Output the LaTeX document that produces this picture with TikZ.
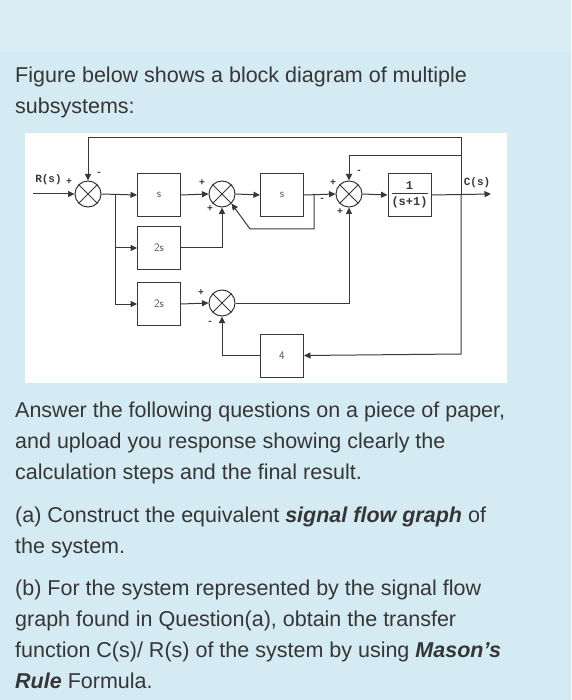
\documentclass[tikz,border=0pt]{standalone}
\usepackage{fontspec}
\setmainfont{Liberation Sans}
\setmonofont{Liberation Mono}
\usetikzlibrary{arrows.meta}

\definecolor{pagebg}{HTML}{D4EBF4}
\definecolor{topbg}{HTML}{DAEDF4}
\definecolor{ink}{HTML}{363636}
\definecolor{wire}{HTML}{383838}
\definecolor{blocktext}{HTML}{555555}

\begin{document}
\begin{tikzpicture}[x=1pt, y=-1pt,
    every node/.style={inner sep=0pt},
    line/.style={draw=wire, line width=1pt},
    arr/.style={line, -{Triangle[length=6.5pt, width=6pt]}},
    block/.style={draw=wire, line width=1pt, minimum width=43pt, minimum height=43pt,
      font=\sffamily\fontsize{11.5}{12}\selectfont, text=blocktext},
    summer/.style={circle, draw=wire, line width=1pt, minimum size=26pt,
      path picture={\draw[wire, line width=0.9pt]
        (path picture bounding box.north west) -- (path picture bounding box.south east)
        (path picture bounding box.north east) -- (path picture bounding box.south west);}},
    sign/.style={font=\bfseries\fontsize{10}{10}\selectfont, text=wire},
    sig/.style={font=\ttfamily\bfseries\fontsize{11}{12}\selectfont, text=wire},
    para/.style={anchor=base west, text=ink, font=\fontsize{21.5}{26}\selectfont}]

  \useasboundingbox (0,0) rectangle (571,700);

  %% Page background
  \fill[pagebg] (0,0) rectangle (571,700);
  \fill[topbg] (0,0) rectangle (571,52);
  \fill[white] (25,133) rectangle (507,383);

  %% Question text
  \node[para] (t1) at (15,83) {Figure below shows a block diagram of multiple};
  \node[para] (t2) at (15,113.5) {subsystems:};

  %% Block diagram
  % summing junctions
  \node[summer] (sum1) at (88,194) {};
  \node[summer] (sum2) at (222,194) {};
  \node[summer] (sum3) at (349,194) {};
  \node[summer] (sum4) at (222,303) {};

  % blocks
  \node[block] (bs1) at (159,195) {s};
  \node[block] (b2a) at (159,248) {2s};
  \node[block] (b2b) at (159,304) {2s};
  \node[block] (bs2) at (282,195) {s};
  \node[block, text=wire] (bg) at (409.5,195) {\ttfamily\bfseries\fontsize{12}{13}\selectfont
    \begin{tabular}{@{}c@{}}1\\[-1pt]\hline\rule{0pt}{12pt}(s+1)\end{tabular}};
  \node[block] (b4) at (282,355.5) {4};

  % signal labels
  \node[sig] (rlab) at (48.5,180) {R(s)};
  \node[sig] (clab) at (477,183) {C(s)};

  % branch points and corners
  \coordinate (in) at (33,194);
  \coordinate (out) at (491,194);
  \coordinate (pa) at (115,194);
  \coordinate (pb) at (461,194);
  \coordinate (pc) at (314,194);

  % forward path
  \draw[arr] (in) -- (sum1.west);
  \draw[arr] (sum1.east) -- (bs1.west);
  \draw[arr] (bs1.east) -- (sum2.west);
  \draw[arr] (sum2.east) -- (bs2.west);
  \draw[arr] (bs2.east) -- (sum3.west);
  \draw[arr] (sum3.east) -- (bg.west);
  \draw[arr] (bg.east) -- (out);

  % parallel branches
  \draw[line] (pa) -- (pa |- b2b.west);
  \draw[arr] (pa |- b2a.west) -- (b2a.west);
  \draw[arr] (pa |- b2b.west) -- (b2b.west);
  \draw[arr] (b2a.east) -| (sum2.south);
  \draw[arr] (b2b.east) -- (sum4.west);
  \draw[arr] (sum4.east) -| (sum3.south);

  % minor loop round second s block
  \draw[arr] (pc) -- (314,229) -- (250,229) -- (sum2.south east);

  % outer feedback loops
  \draw[arr] (pb) -- (461,138) -| (sum1.north);
  \draw[arr] (461,156) -| (sum3.north);
  \draw[arr] (pb) -- (461,354) -- (b4.east);
  \draw[arr] (b4.west) -| (sum4.south);

  % signs
  \node[sign] (s1a) at (69,182) {+};
  \node[sign] (s1b) at (99,174) {-};
  \node[sign] (s2a) at (202,183) {+};
  \node[sign] (s2b) at (210,209) {+};
  \node[sign] (s2c) at (322,200) {-};
  \node[sign] (s3a) at (333,183) {+};
  \node[sign] (s3b) at (359,172) {-};
  \node[sign] (s3c) at (340,212) {+};
  \node[sign] (s4a) at (201,293) {+};
  \node[sign] (s4b) at (210,323) {-};

  %% Questions
  \node[para] (t3) at (15,417.5) {Answer the following questions on a piece of paper,};
  \node[para] (t4) at (15,448.5) {and upload you response showing clearly the};
  \node[para] (t5) at (15,479) {calculation steps and the final result.};
  \node[para] (t6) at (15,522) {(a) Construct the equivalent \textbf{\textit{signal flow graph}} of};
  \node[para] (t7) at (15,553) {the system.};
  \node[para] (t8) at (15,595.5) {(b) For the system represented by the signal flow};
  \node[para] (t9) at (15,626.5) {graph found in Question(a), obtain the transfer};
  \node[para] (t10) at (15,657) {function C(s)/ R(s) of the system by using \textbf{\textit{Mason’s}}};
  \node[para] (t11) at (15,688) {\textbf{\textit{Rule}} Formula.};
\end{tikzpicture}
\end{document}
